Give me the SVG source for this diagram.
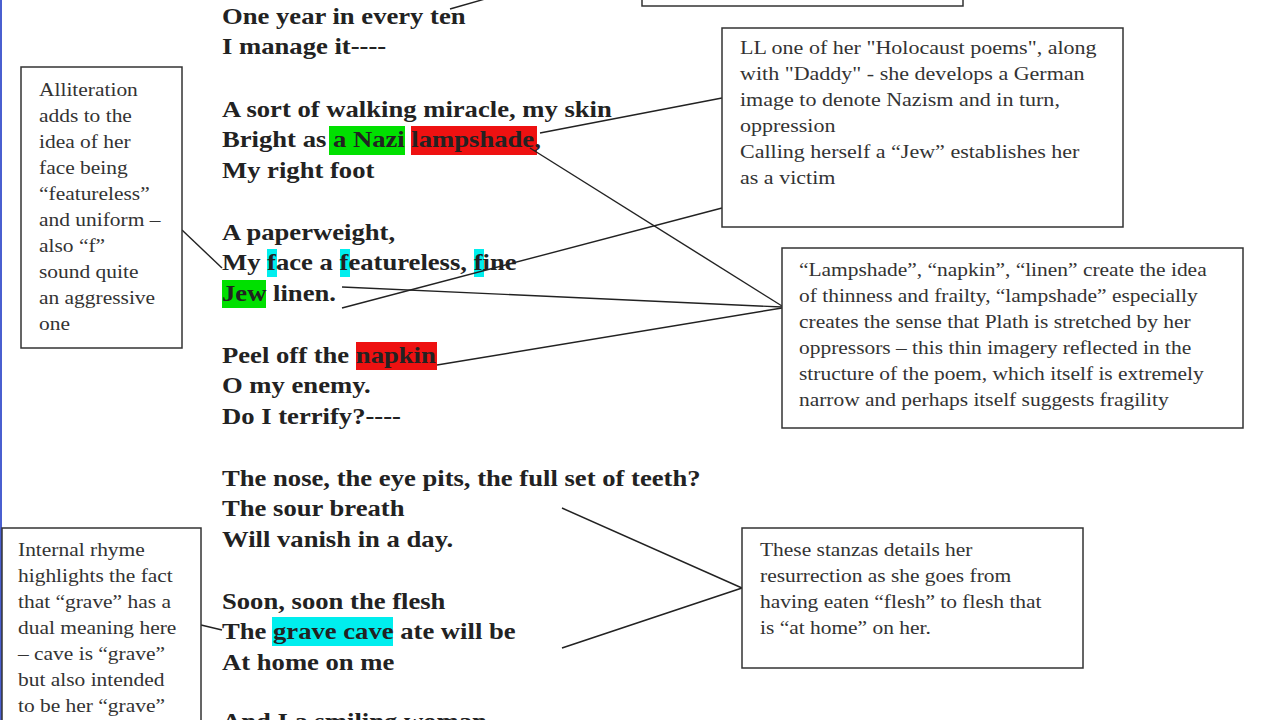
<svg xmlns="http://www.w3.org/2000/svg" width="1280" height="720" viewBox="0 0 1280 720">
<style>
.p{font-family:"Liberation Serif",serif;font-weight:bold;font-size:24px;fill:#222}
.n{font-family:"Liberation Serif",serif;font-size:19.5px;fill:#333}
.b{fill:#fff;stroke:#333;stroke-width:1.5}
.c line{stroke:#222;stroke-width:1.4}
</style>
<rect width="1280" height="720" fill="#fff"/>
<line x1="1" y1="0" x2="1" y2="720" stroke="#4a5fd0" stroke-width="2"/>
<g id="highlights">
<rect x="329" y="126" width="76" height="29" fill="#00e000"/>
<rect x="411" y="126" width="126" height="29" fill="#ee1111"/>
<rect x="267" y="249" width="10" height="28" fill="#00eeee"/>
<rect x="340" y="249" width="10" height="28" fill="#00eeee"/>
<rect x="474" y="249" width="10" height="28" fill="#00eeee"/>
<rect x="222" y="280" width="44" height="28" fill="#00e000"/>
<rect x="356" y="342" width="81" height="28" fill="#ee1111"/>
<rect x="272" y="617" width="121" height="29" fill="#00eeee"/>
</g>
<g id="poem" class="p" transform="translate(222,0) scale(1.11,1)">
<text x="0" y="24">One year in every ten</text>
<text x="0" y="54">I manage it----</text>
<text x="0" y="117">A sort of walking miracle, my skin</text>
<text x="0" y="147">Bright as a Nazi lampshade,</text>
<text x="0" y="178">My right foot</text>
<text x="0" y="240">A paperweight,</text>
<text x="0" y="270">My face a featureless, fine</text>
<text x="0" y="301">Jew linen.</text>
<text x="0" y="363">Peel off the napkin</text>
<text x="0" y="393">O my enemy.</text>
<text x="0" y="424">Do I terrify?----</text>
<text x="0" y="486">The nose, the eye pits, the full set of teeth?</text>
<text x="0" y="516">The sour breath</text>
<text x="0" y="547">Will vanish in a day.</text>
<text x="0" y="609">Soon, soon the flesh</text>
<text x="0" y="639">The grave cave ate will be</text>
<text x="0" y="670">At home on me</text>
<text x="0" y="729">And I a smiling woman.</text>
</g>
<g class="c" id="connectors">
<line x1="450" y1="9" x2="492" y2="-3"/>
<line x1="540" y1="133" x2="722" y2="98"/>
<line x1="530" y1="148" x2="782" y2="306"/>
<line x1="182" y1="230" x2="222" y2="268"/>
<line x1="342" y1="308" x2="722" y2="208"/>
<line x1="342" y1="287" x2="782" y2="307"/>
<line x1="437" y1="365" x2="782" y2="308"/>
<line x1="562" y1="508" x2="742" y2="588"/>
<line x1="562" y1="648" x2="742" y2="588"/>
<line x1="201" y1="625" x2="222" y2="630"/>
</g>
<g id="top-box"><rect class="b" x="642" y="-10" width="321" height="16"/></g>
<g id="alliteration">
<rect class="b" x="21" y="67" width="161" height="281"/>
<text class="n" transform="translate(39,0) scale(1.1,1)"><tspan x="0" y="96">Alliteration</tspan><tspan x="0" y="122">adds to the</tspan><tspan x="0" y="148">idea of  her</tspan><tspan x="0" y="174">face being</tspan><tspan x="0" y="200">“featureless”</tspan><tspan x="0" y="226">and uniform –</tspan><tspan x="0" y="252">also “f”</tspan><tspan x="0" y="278">sound quite</tspan><tspan x="0" y="304">an aggressive</tspan><tspan x="0" y="330">one</tspan></text>
</g>
<g id="holocaust">
<rect class="b" x="722" y="28" width="401" height="199"/>
<text class="n" transform="translate(740,0) scale(1.13,1)"><tspan x="0" y="54">LL one of her "Holocaust poems", along</tspan><tspan x="0" y="80">with "Daddy" - she develops a German</tspan><tspan x="0" y="106">image to denote Nazism and in turn,</tspan><tspan x="0" y="132">oppression</tspan><tspan x="0" y="158">Calling herself a “Jew” establishes her</tspan><tspan x="0" y="184">as a victim</tspan></text>
</g>
<g id="lampshade">
<rect class="b" x="782" y="248" width="461" height="180"/>
<text class="n" transform="translate(799,0) scale(1.1,1)"><tspan x="0" y="276">“Lampshade”, “napkin”, “linen” create the idea</tspan><tspan x="0" y="302">of thinness and frailty, “lampshade” especially</tspan><tspan x="0" y="328">creates the sense that Plath is stretched by her</tspan><tspan x="0" y="354">oppressors – this thin imagery reflected in the</tspan><tspan x="0" y="380">structure of the poem, which itself is extremely</tspan><tspan x="0" y="406">narrow and perhaps itself suggests fragility</tspan></text>
</g>
<g id="stanzas">
<rect class="b" x="742" y="528" width="341" height="140"/>
<text class="n" transform="translate(760,0) scale(1.1,1)"><tspan x="0" y="556">These stanzas details her</tspan><tspan x="0" y="582">resurrection as she goes from</tspan><tspan x="0" y="608">having eaten “flesh” to flesh that</tspan><tspan x="0" y="634">is “at home” on her.</tspan></text>
</g>
<g id="rhyme">
<rect class="b" x="2" y="528" width="199" height="200"/>
<text class="n" transform="translate(18,0) scale(1.1,1)"><tspan x="0" y="556">Internal rhyme</tspan><tspan x="0" y="582">highlights the fact</tspan><tspan x="0" y="608">that “grave” has a</tspan><tspan x="0" y="634">dual meaning here</tspan><tspan x="0" y="660">– cave is “grave”</tspan><tspan x="0" y="686">but also intended</tspan><tspan x="0" y="712">to be her “grave”</tspan></text>
</g>
</svg>
